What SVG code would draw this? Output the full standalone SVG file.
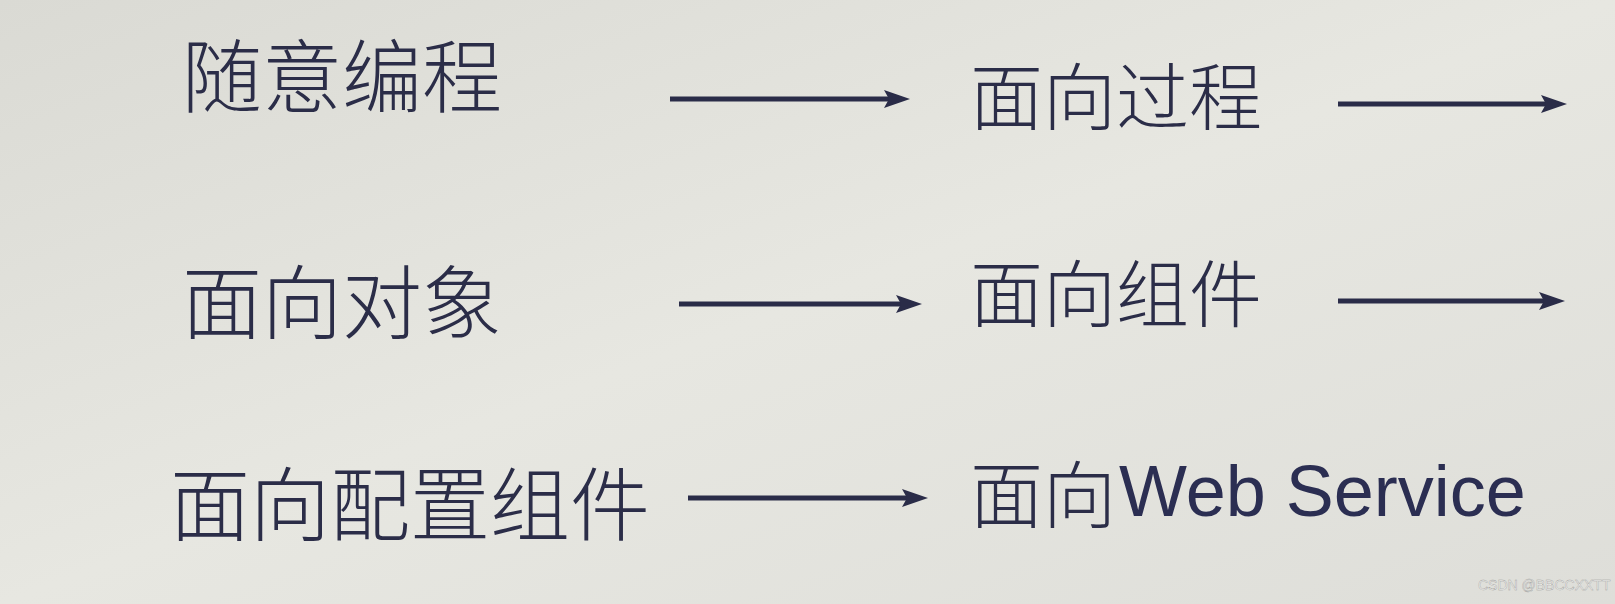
<svg xmlns="http://www.w3.org/2000/svg" width="1615" height="604" viewBox="0 0 1615 604">
<defs>
<linearGradient id="bg" x1="0" y1="0" x2="1" y2="1">
<stop offset="0" stop-color="#dadad4"/>
<stop offset="0.5" stop-color="#e7e7e1"/>
<stop offset="1" stop-color="#deded9"/>
</linearGradient>
<marker id="ah" markerUnits="userSpaceOnUse" markerWidth="28" markerHeight="20" refX="5" refY="9" orient="auto">
<path d="M0,0 L26,9 L0,18 L5,9 z" fill="#2a2c48"/>
</marker>
<style>
.cjk{font-family:"Noto Sans CJK SC","Noto Sans",sans-serif;font-weight:300;fill:#2b2d48}
.l{font-size:80px}
.r{font-size:73px}
.lat{font-family:"Liberation Sans",Arial,sans-serif;font-size:72px;fill:#2b2e52}
.arr{stroke:#2a2c48;stroke-width:5;fill:none;marker-end:url(#ah)}
.wm{font-family:"Liberation Sans",Arial,sans-serif;font-size:14px;fill:#f4f4f2;stroke:#9a9a98;stroke-width:0.4}
</style>
</defs>
<rect width="1615" height="604" fill="url(#bg)"/>
<g id="n1"><text class="cjk l" x="182" y="106">随意编程</text></g>
<g id="n2"><text class="cjk r" x="970" y="124">面向过程</text></g>
<g id="n3"><text class="cjk l" x="182" y="332">面向对象</text></g>
<g id="n4"><text class="cjk r" x="970" y="321">面向组件</text></g>
<g id="n5"><text class="cjk l" x="170" y="534">面向配置组件</text></g>
<g id="n6"><text x="970" y="522"><tspan class="cjk r">面向</tspan><tspan class="lat" x="1119" y="516">Web Service</tspan></text></g>
<g id="connectors">
<path class="arr" d="M670,99 L889,99"/>
<path class="arr" d="M1338,104 L1546,104"/>
<path class="arr" d="M679,304 L901,304"/>
<path class="arr" d="M1338,301 L1544,301"/>
<path class="arr" d="M688,498 L907,498"/>
</g>
<text class="wm" x="1478" y="590">CSDN @BBCCXXTT</text>
</svg>
